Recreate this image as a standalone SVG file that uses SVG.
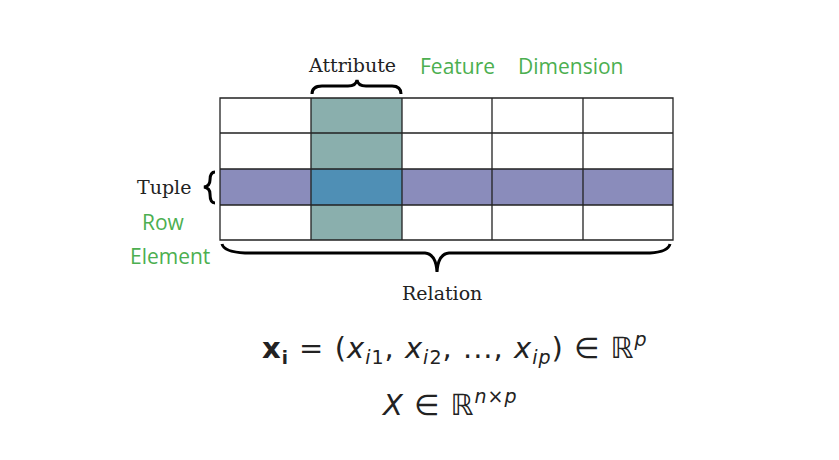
<svg xmlns="http://www.w3.org/2000/svg" width="839" height="460" viewBox="0 0 839 460">
<style>
.serif{font-family:"DejaVu Serif","Liberation Serif",serif;font-size:19px;fill:#222}
.green{font-family:"Open Sans","Noto Sans",sans-serif;font-size:21px;fill:#4caf50}
.grid{stroke:#222;stroke-width:1.3;fill:none}
.brace{stroke:#000;stroke-width:3;fill:none}
.m{font-family:"DejaVu Sans","Liberation Sans",sans-serif;fill:#222}
</style>
<rect width="839" height="460" fill="#fff"/>
<g id="table">
<rect x="311" y="98" width="91" height="142" fill="#8aafad"/>
<rect x="220" y="169" width="453" height="36" fill="#8a8cbb"/>
<rect x="311" y="169" width="91" height="36" fill="#4f8fb5"/>
<path class="grid" d="M220,98H673V240H220Z M220,133H673 M220,169H673 M220,205H673 M311,98V240 M402,98V240 M492,98V240 M583,98V240"/>
</g>
<g id="braces">
<path class="brace" d="M312,94 Q312,86 322,86 H348 Q356,86 357,80 Q358,86 366,86 H392 Q401,86 401,94"/>
<path class="brace" d="M215,172 Q210,172 210,180 Q210,186 204,187 Q210,188 210,194 Q210,203 215,203"/>
<path class="brace" d="M222,244 Q224,252 245,253 H425 Q436,254 437,272 Q438,254 449,253 H650 Q668,252 670,244"/>
</g>
<g id="labels">
<text class="serif" x="309" y="72">Attribute</text>
<text class="green" x="420" y="74">Feature</text>
<text class="green" x="518" y="74">Dimension</text>
<text class="serif" x="137" y="194">Tuple</text>
<text class="green" x="142" y="230">Row</text>
<text class="green" x="130" y="264">Element</text>
<text class="serif" x="402" y="300">Relation</text>
</g>
<g id="formula">
<text class="m" x="262" y="358" font-size="29" letter-spacing="1"><tspan font-weight="bold">x</tspan><tspan font-weight="bold" font-size="18" dy="6">i</tspan><tspan dy="-6"> = (</tspan><tspan font-style="italic">x</tspan><tspan font-style="italic" font-size="19" dy="6">i</tspan><tspan font-size="19">1</tspan><tspan dy="-6">, </tspan><tspan font-style="italic">x</tspan><tspan font-style="italic" font-size="19" dy="6">i</tspan><tspan font-size="19">2</tspan><tspan dy="-6">, ..., </tspan><tspan font-style="italic">x</tspan><tspan font-style="italic" font-size="19" dy="6">ip</tspan><tspan dy="-6">) ∈ ℝ</tspan><tspan font-style="italic" font-size="19" dy="-12">p</tspan></text>
<text class="m" x="383" y="415" font-size="29" letter-spacing="1"><tspan font-style="italic">X</tspan> ∈ ℝ<tspan font-style="italic" font-size="19" dy="-12">n×p</tspan></text>
</g>
</svg>
